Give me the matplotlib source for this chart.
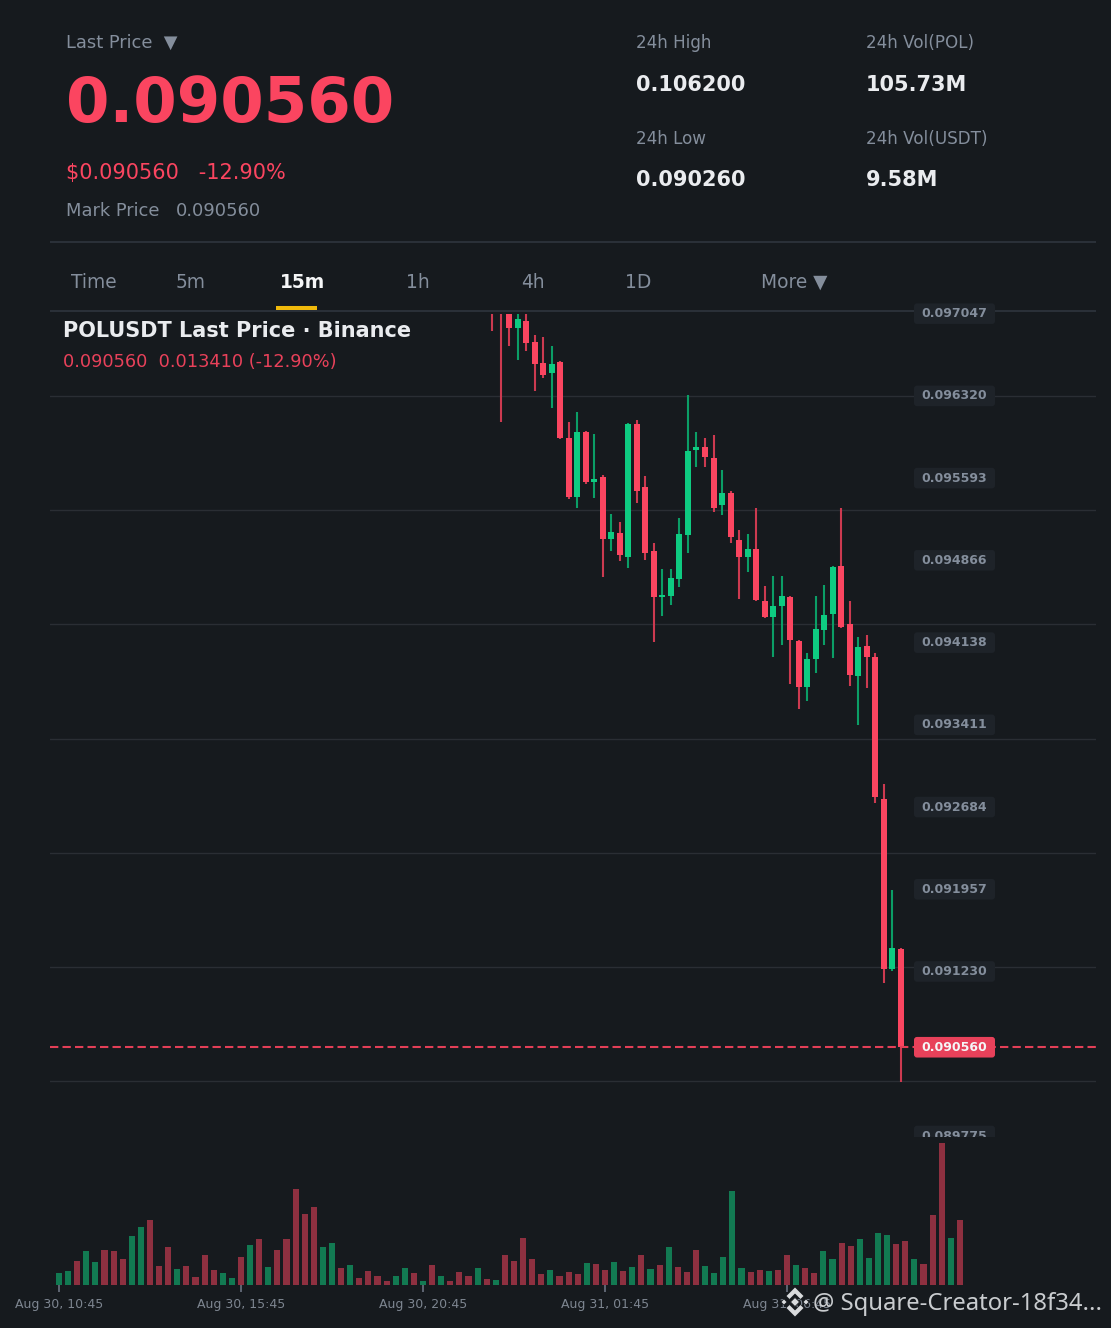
import numpy as np
from matplotlib import pyplot as plt
from matplotlib.patches import FancyBboxPatch, Polygon

### Candles, oldest first. The first few bodies sit above the visible range###
opens = [0.097300, 0.097250, 0.097150, 0.096914, 0.096976, 0.096791, 0.096605, 0.096516, 0.096614, 0.095941,
         0.095420, 0.095995, 0.095552, 0.095597, 0.095048, 0.095101, 0.094889, 0.096065, 0.095508, 0.094942,
         0.094535, 0.094544, 0.094695, 0.095084, 0.095835, 0.095862, 0.095765, 0.095349, 0.095455, 0.095039,
         0.094889, 0.094960, 0.094500, 0.094358, 0.094456, 0.094535, 0.094146, 0.093739, 0.093987, 0.094244,
         0.094385, 0.094809, 0.094297, 0.093837, 0.094102, 0.094005, 0.092749, 0.091245, 0.091422]
highs = [0.097400, 0.097350, 0.097250, 0.097100, 0.097100, 0.096852, 0.096835, 0.096755, 0.096622, 0.096083,
         0.096171, 0.096003, 0.095977, 0.095614, 0.095269, 0.095199, 0.096074, 0.096101, 0.095605, 0.095013,
         0.094783, 0.094783, 0.095234, 0.096322, 0.095995, 0.095941, 0.095968, 0.095658, 0.095473, 0.095128,
         0.095092, 0.095322, 0.094633, 0.094721, 0.094721, 0.094544, 0.094155, 0.094040, 0.094544, 0.094641,
         0.094809, 0.095322, 0.094500, 0.094182, 0.094199, 0.094040, 0.092881, 0.091944, 0.091431]
lows = [0.096888, 0.096086, 0.096758, 0.096631, 0.096711, 0.096357, 0.096472, 0.096207, 0.095933, 0.095402,
        0.095322, 0.095535, 0.095411, 0.094712, 0.094942, 0.094854, 0.094792, 0.095367, 0.094863, 0.094137,
        0.094367, 0.094465, 0.094624, 0.094924, 0.095685, 0.095685, 0.095287, 0.095261, 0.095013, 0.094518,
        0.094756, 0.094500, 0.094350, 0.094005, 0.094111, 0.093766, 0.093545, 0.093616, 0.093863, 0.094111,
        0.093996, 0.094261, 0.093748, 0.093403, 0.093730, 0.092713, 0.091122, 0.091228, 0.090246]
closes = [0.097150, 0.097100, 0.096914, 0.096994, 0.096782, 0.096596, 0.096499, 0.096596, 0.095941, 0.095420,
          0.095995, 0.095552, 0.095579, 0.095048, 0.095110, 0.094907, 0.096065, 0.095473, 0.094924, 0.094535,
          0.094553, 0.094703, 0.095092, 0.095827, 0.095862, 0.095773, 0.095322, 0.095455, 0.095066, 0.094889,
          0.094960, 0.094509, 0.094358, 0.094456, 0.094544, 0.094155, 0.093739, 0.093987, 0.094252, 0.094376,
          0.094801, 0.094270, 0.093845, 0.094093, 0.094005, 0.092766, 0.091245, 0.091431, 0.090560]

### Volume bars (arbitrary units), 1 = up candle###
volumes = [12, 14, 24, 34, 23, 35, 34, 26, 49, 58, 65, 19, 38, 16, 19, 8, 30, 15, 12, 7,
           28, 40, 46, 18, 35, 46, 96, 71, 78, 38, 42, 17, 20, 7, 14, 9, 4, 9, 17, 12,
           4, 20, 9, 4, 13, 9, 17, 6, 5, 30, 24, 47, 26, 11, 15, 9, 13, 11, 22, 21,
           15, 23, 14, 18, 30, 16, 20, 38, 18, 13, 35, 19, 12, 28, 94, 17, 13, 15, 14, 15,
           30, 20, 17, 12, 34, 26, 42, 39, 46, 27, 52, 50, 41, 44, 26, 21, 70, 142, 47, 65]
volume_up = [1, 1, 0, 1, 1, 0, 0, 0, 1, 1, 0, 0, 0, 1, 0, 0, 0, 0, 1, 1,
             0, 1, 0, 1, 0, 0, 0, 0, 0, 1, 1, 0, 1, 0, 0, 0, 0, 1, 1, 0,
             1, 0, 1, 0, 0, 0, 1, 0, 1, 0, 0, 0, 0, 0, 1, 0, 0, 0, 1, 0,
             0, 1, 0, 1, 0, 1, 0, 1, 0, 0, 0, 1, 1, 1, 1, 1, 0, 0, 1, 0,
             0, 1, 0, 0, 1, 1, 0, 0, 1, 1, 1, 1, 0, 0, 1, 0, 0, 0, 1, 0]

### Axis values###
price_labels = ["0.097047", "0.096320", "0.095593", "0.094866", "0.094138",
                "0.093411", "0.092684", "0.091957", "0.091230", "0.089775"]
grid_prices = [0.096313, 0.095305, 0.094297, 0.093279, 0.092271, 0.091263, 0.090255]
last_price = 0.090560
time_tick_pos = [0, 20, 40, 60, 80]
time_tick_labels = ["Aug 30, 10:45", "Aug 30, 15:45", "Aug 30, 20:45", "Aug 31, 01:45", "Aug 31, 06:45"]

### Colours###
BG = "#161a1e"
RED = "#fb4560"
RED_WICK = "#cc3a50"
RED_VOL = "#8e3040"
GREEN = "#0ecb81"
GREEN_WICK = "#0b9e66"
GREEN_VOL = "#127a52"
GREY = "#848e9c"
WHITE = "#eaecef"
LINE = "#2b3139"
GRID = "#2a2e34"

W, H = 1111, 1328


def axes_from_pixels(left, top, right, bottom):
    return fig.add_axes([left/W, 1-bottom/H, (right-left)/W, (bottom-top)/H])


fig = plt.figure(figsize=(W/100, H/100), dpi=100, facecolor=BG)

# overlay in pixel units for the header text and the separators
ui = axes_from_pixels(0, 0, W, H)
ui.set_xlim(0, W)
ui.set_ylim(H, 0)
ui.axis("off")


def label(x, y, s, size, color=GREY, weight="normal", **kw):
    ui.text(x, y+1, s, fontsize=size, color=color, fontweight=weight, va="center", ha="left", **kw)


label(66, 42, "Last Price  ▼", 12.9)
label(66, 104, "0.090560", 45, RED, "bold")
label(66, 172, "$0.090560   -12.90%", 15, RED)
label(66, 210, "Mark Price", 12.9)
label(176, 210, "0.090560", 12.9)

label(636, 42, "24h High", 12.1)
label(636, 84, "0.106200", 15, WHITE, "bold")
label(636, 138, "24h Low", 12.1)
label(636, 179, "0.090260", 15, WHITE, "bold")
label(866, 42, "24h Vol(POL)", 12.1)
label(866, 84, "105.73M", 15, WHITE, "bold")
label(866, 138, "24h Vol(USDT)", 12.1)
label(866, 179, "9.58M", 15, WHITE, "bold")

ui.plot([50, 1096], [242, 242], color=LINE, lw=1.4, solid_capstyle="butt")
label(71, 281, "Time", 13.4)
label(176, 281, "5m", 13.4)
label(280, 281, "15m", 13.4, "#f5f6f7", "bold")
label(406, 281, "1h", 13.4)
label(521, 281, "4h", 13.4)
label(625, 281, "1D", 13.4)
label(761, 281, "More ▼", 13.4)
ui.plot([276, 317], [307.5, 307.5], color="#f0b90b", lw=2.9, solid_capstyle="butt")
ui.plot([50, 1096], [311, 311], color=LINE, lw=1.4, solid_capstyle="butt")

label(63, 330, "POLUSDT Last Price · Binance", 15, WHITE, "bold")
label(63, 361, "0.090560  0.013410 (-12.90%)", 12.8, "#e8415a")

# price panel, x in pixels so the candles and the price boxes share one scale
ax = axes_from_pixels(50, 314, 1096, 1137)
ax.set_xlim(50, 1096)
ax.set_ylim(0.089760, 0.097038)
ax.axis("off")
ax.patch.set_alpha(0)

for price in grid_prices:
    ax.axhline(price, color=GRID, lw=1, zorder=1)

candle_x = 492 + 8.52*np.arange(len(opens))
o = np.array(opens)
c = np.array(closes)
up = c >= o
wick_colors = np.where(up, GREEN_WICK, RED_WICK)
body_colors = np.where(up, GREEN, RED)
ax.vlines(candle_x, lows, highs, colors=wick_colors, lw=1.5, zorder=2)
ax.bar(candle_x, np.abs(c-o), bottom=np.minimum(o, c), width=6, color=body_colors, zorder=3)

ax.axhline(last_price, color="#e33f57", lw=1.5, dashes=(4, 2), zorder=4)

y_per_px = (ax.get_ylim()[1]-ax.get_ylim()[0])/823


def price_box(price, s, face, color, clip=True):
    centre = price - 0.7*y_per_px
    box = FancyBboxPatch((914, centre-10.3*y_per_px), 81, 20.6*y_per_px, boxstyle="round,pad=0,rounding_size=3",
                         mutation_aspect=y_per_px, fc=face, ec="none", zorder=5, clip_on=clip)
    ax.add_patch(box)
    ax.text(954.5, centre, s, fontsize=9, fontweight="bold", color=color, ha="center", va="center",
            zorder=6, clip_on=clip)


for s in price_labels:
    price_box(float(s), s, "#1e2329", GREY, clip=s == "0.089775")
price_box(last_price, "0.090560", "#e8415a", "#f5f6f7")

# volume panel
vol_ax = axes_from_pixels(0, 1137, W, 1285)
vol_ax.set_xlim(-59/9.1, (W-59)/9.1)
vol_ax.set_ylim(0, 148)
vol_ax.patch.set_alpha(0)
for side in vol_ax.spines.values():
    side.set_visible(False)
vol_ax.bar(np.arange(len(volumes)), volumes, width=0.66,
           color=[GREEN_VOL if u else RED_VOL for u in volume_up])
vol_ax.set_yticks([])
vol_ax.set_xticks(time_tick_pos)
vol_ax.set_xticklabels(time_tick_labels)
vol_ax.tick_params(axis="x", length=5, width=1.4, color="#5e6673", labelcolor="#7d8590",
                   labelsize=9, pad=4.5)

# watermark drawn on top of the last date label
mark = axes_from_pixels(0, 0, W, H)
mark.set_xlim(0, W)
mark.set_ylim(H, 0)
mark.axis("off")
mark.patch.set_alpha(0)
logo = "#d9dbdd"
cx, cy = 795, 1302
logo_shapes = [
    [(cx, cy-15), (cx+9, cy-6), (cx+5.5, cy-2.5), (cx, cy-8), (cx-5.5, cy-2.5), (cx-9, cy-6)],
    [(cx, cy+15), (cx+9, cy+6), (cx+5.5, cy+2.5), (cx, cy+8), (cx-5.5, cy+2.5), (cx-9, cy+6)],
    [(cx, cy-4.5), (cx+4.5, cy), (cx, cy+4.5), (cx-4.5, cy)],
    [(cx-11, cy-3), (cx-8, cy), (cx-11, cy+3), (cx-14, cy)],
    [(cx+11, cy-3), (cx+14, cy), (cx+11, cy+3), (cx+8, cy)],
]
for shape in logo_shapes:
    mark.add_patch(Polygon(shape, closed=True, fc=logo, ec=BG, lw=0.5))
mark.text(813, 1304, "@ Square-Creator-18f34...", fontsize=17.2, color="#c9cccf", family="Noto Sans",
          ha="left", va="center")

fig.savefig("out.png", dpi=100, facecolor=BG)
